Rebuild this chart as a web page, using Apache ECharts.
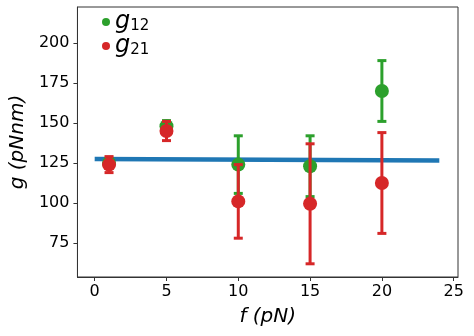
<!DOCTYPE html>
<html><head><meta charset="utf-8">
<script src="https://cdn.jsdelivr.net/npm/echarts@6/dist/echarts.min.js"></script>
<style>html,body{margin:0;padding:0;background:#fff}#c{width:474px;height:336px}</style>
</head><body><div id="c"></div>
<script>
// Data
const forces = [1, 5, 10, 15, 20];
const g12Mean = [125, 148, 124, 123, 170];
const g12Err  = [3, 3.5, 18, 19, 19];
const g21Mean = [124, 145, 101, 99.5, 112.5];
const g21Err  = [5, 6, 23, 37.5, 31.5];
const fitF = [0, 24];
const fitG = [127.5, 126.6];
const xTicks = [0, 5, 10, 15, 20, 25];
const yTicks = [75, 100, 125, 150, 175, 200];

const GREEN = '#2ca02c', RED = '#d62728', BLUE = '#1f77b4';
const FONT = 'DejaVu Sans';

function errData(mean, err){ return forces.map((f,i)=>[f, mean[i]-err[i], mean[i]+err[i]]); }
function errRender(color){
  return function(params, api){
    const x = api.value(0), lo = api.value(1), hi = api.value(2);
    const p1 = api.coord([x, lo]), p2 = api.coord([x, hi]);
    const w = 4.5;
    const st = {stroke: color, lineWidth: 3};
    return {type:'group', children:[
      {type:'line', shape:{x1:p1[0],y1:p1[1],x2:p2[0],y2:p2[1]}, style:st},
      {type:'line', shape:{x1:p1[0]-w,y1:p1[1],x2:p1[0]+w,y2:p1[1]}, style:st},
      {type:'line', shape:{x1:p2[0]-w,y1:p2[1],x2:p2[0]+w,y2:p2[1]}, style:st}
    ]};
  };
}

const chart = echarts.init(document.getElementById('c'), null, {renderer:'canvas'});
chart.setOption({
  animation:false,
  backgroundColor:'#fff',
  grid:{left:76, right:16, top:7, bottom:59, show:true, borderColor:'#333', borderWidth:1},
  legend:{
    data:[{name:'g12', icon:'circle'},{name:'g21', icon:'circle'}],
    orient:'vertical', left:102, top:10, itemWidth:8, itemHeight:8, itemGap:0, padding:0,
    formatter: n => '{g|g}{s|' + n.slice(1) + '}',
    textStyle:{ rich:{
      g:{fontFamily:FONT, fontStyle:'italic', fontSize:24, color:'#000', lineHeight:22},
      s:{fontFamily:FONT, fontSize:15, color:'#000', padding:[9,0,0,0], lineHeight:12}
    }}
  },
  xAxis:{
    type:'value', min:-1.2, max:25.3,
    name:'f (pN)', nameLocation:'middle', nameGap:30,
    nameTextStyle:{fontFamily:FONT, fontStyle:'italic', fontSize:20, color:'#000'},
    axisLine:{show:true, onZero:false, lineStyle:{color:'#333'}},
    axisTick:{show:true, length:4, customValues:xTicks, lineStyle:{color:'#333'}},
    axisLabel:{customValues:xTicks, fontFamily:FONT, fontSize:16, color:'#000', margin:7},
    splitLine:{show:false}
  },
  yAxis:{
    type:'value', min:53.75, max:222.5,
    name:'g (pNnm)', nameLocation:'middle', nameGap:48,
    nameTextStyle:{fontFamily:FONT, fontStyle:'italic', fontSize:20, color:'#000'},
    axisLine:{show:true, onZero:false, lineStyle:{color:'#333'}},
    axisTick:{show:true, length:4, customValues:yTicks, lineStyle:{color:'#333'}},
    axisLabel:{customValues:yTicks, fontFamily:FONT, fontSize:16, color:'#000', margin:8},
    splitLine:{show:false}
  },
  series:[
    {type:'line', data:fitF.map((f,i)=>[f, fitG[i]]), showSymbol:false, symbol:'none',
     lineStyle:{color:BLUE, width:4.5}, z:1, silent:true},
    {type:'custom', name:'g12err', data:errData(g12Mean, g12Err), renderItem:errRender(GREEN), z:2,
     encode:{x:0, y:[1,2]}},
    {type:'scatter', name:'g12', data:forces.map((f,i)=>[f, g12Mean[i]]), symbolSize:14,
     itemStyle:{color:GREEN, opacity:1}, z:3},
    {type:'custom', name:'g21err', data:errData(g21Mean, g21Err), renderItem:errRender(RED), z:4,
     encode:{x:0, y:[1,2]}},
    {type:'scatter', name:'g21', data:forces.map((f,i)=>[f, g21Mean[i]]), symbolSize:14,
     itemStyle:{color:RED, opacity:1}, z:5}
  ]
});
</script></body></html>
